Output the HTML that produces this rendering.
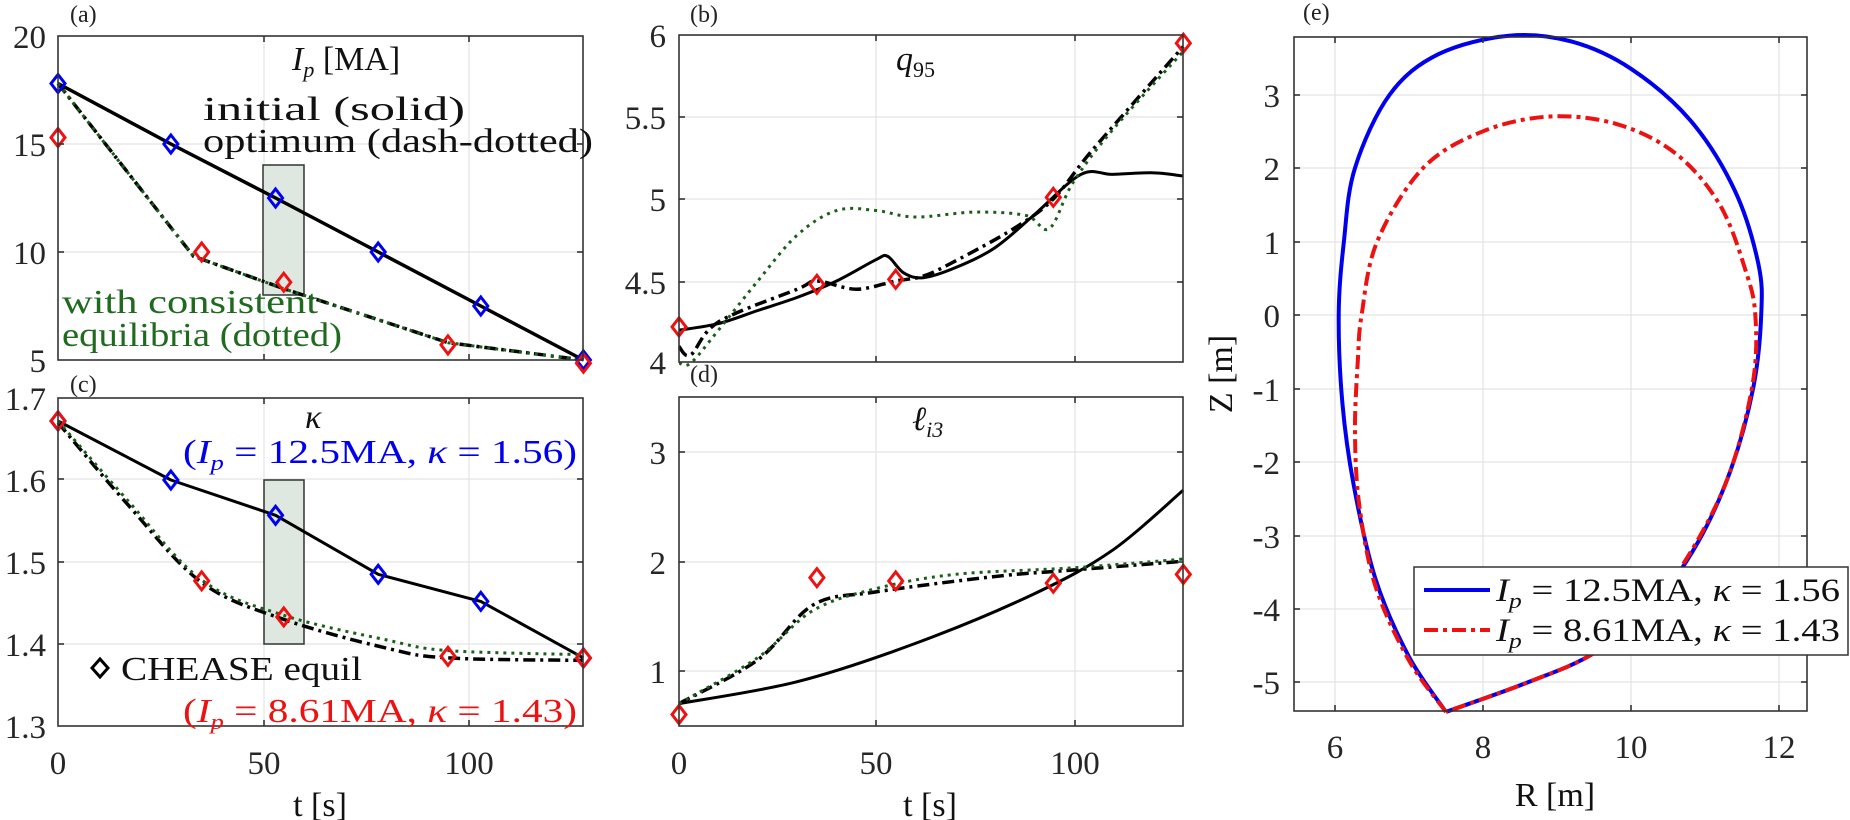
<!DOCTYPE html>
<html><head><meta charset="utf-8"><style>
html,body{margin:0;padding:0;background:#fff;}
svg{display:block;}
svg text{font-family:"Liberation Serif","DejaVu Serif",serif;}
.tk{font-size:33px;fill:#262626;}
.lab{font-size:34px;fill:#111;}
.pl{font-size:24px;fill:#222;}
</style></head><body>
<svg id="s" width="1850" height="820" viewBox="0 0 1850 820" xmlns="http://www.w3.org/2000/svg" font-family="Liberation Serif, serif">
<rect width="1850" height="820" fill="#fff"/>
<g id="grid" stroke="#e3e3e3" stroke-width="1.2"></g>
<g id="data"></g>
<g id="axes" fill="none" stroke="#333" stroke-width="1.6"></g>
<g class="tk" text-anchor="end">
<text x="46" y="48">20</text><text x="46" y="156">15</text><text x="46" y="264">10</text><text x="46" y="372">5</text>
<text x="46" y="410">1.7</text><text x="46" y="492">1.6</text><text x="46" y="574">1.5</text><text x="46" y="656">1.4</text><text x="46" y="738">1.3</text>
<text x="666" y="47">6</text><text x="666" y="129">5.5</text><text x="666" y="211">5</text><text x="666" y="294">4.5</text><text x="666" y="374">4</text>
<text x="666" y="464">3</text><text x="666" y="574">2</text><text x="666" y="683">1</text>
<text x="1280" y="107">3</text><text x="1280" y="180">2</text><text x="1280" y="254">1</text><text x="1280" y="327">0</text>
<text x="1280" y="401">-1</text><text x="1280" y="474">-2</text><text x="1280" y="548">-3</text><text x="1280" y="621">-4</text><text x="1280" y="694">-5</text>
</g>
<g class="tk" text-anchor="middle">
<text x="58" y="774">0</text><text x="264" y="774">50</text><text x="469" y="774">100</text>
<text x="679" y="774">0</text><text x="876" y="774">50</text><text x="1075" y="774">100</text>
<text x="1335" y="758">6</text><text x="1483" y="758">8</text><text x="1631" y="758">10</text><text x="1779" y="758">12</text>
</g>
<g class="lab" text-anchor="middle">
<text x="320" y="816">t [s]</text><text x="930" y="816">t [s]</text><text x="1555" y="806">R [m]</text>
<text transform="translate(1232,374) rotate(-90)">Z [m]</text>
</g>
<g class="pl">
<text x="70" y="22">(a)</text><text x="690" y="22">(b)</text><text x="70" y="392">(c)</text><text x="690" y="382">(d)</text><text x="1303" y="20">(e)</text>
</g>
<g font-size="34" fill="#111">
<text x="292" y="70"><tspan font-style="italic">I</tspan><tspan font-style="italic" font-size="22" dy="7">p</tspan><tspan dy="-7"> [MA]</tspan></text>
<text x="203" y="120" textLength="262" lengthAdjust="spacingAndGlyphs">initial (solid)</text>
<text x="203" y="152" textLength="390" lengthAdjust="spacingAndGlyphs">optimum (dash-dotted)</text>
<text x="62" y="313" fill="#1f6a1f" textLength="256" lengthAdjust="spacingAndGlyphs">with consistent</text>
<text x="62" y="346" fill="#1f6a1f" textLength="280" lengthAdjust="spacingAndGlyphs">equilibria (dotted)</text>
<text x="305" y="428" font-style="italic">κ</text>
<text x="183" y="463" fill="#0000ee" textLength="394" lengthAdjust="spacingAndGlyphs">(<tspan font-style="italic">I</tspan><tspan font-style="italic" font-size="22" dy="7">p</tspan><tspan dy="-7"> = 12.5MA, </tspan><tspan font-style="italic">κ</tspan> = 1.56)</text>
<text x="121" y="680" textLength="241" lengthAdjust="spacingAndGlyphs">CHEASE equil</text>
<text x="183" y="722" fill="#ee1111" textLength="394" lengthAdjust="spacingAndGlyphs">(<tspan font-style="italic">I</tspan><tspan font-style="italic" font-size="22" dy="7">p</tspan><tspan dy="-7"> = 8.61MA, </tspan><tspan font-style="italic">κ</tspan> = 1.43)</text>
<text x="896" y="70" font-style="italic">q<tspan font-size="22" dy="7" font-style="normal">95</tspan></text>
<text x="912" y="430" font-style="italic">ℓ<tspan font-size="22" dy="7">i3</tspan></text>
</g>
<path d="M100 659 L108 668 L100 677 L92 668 Z" fill="none" stroke="#000" stroke-width="3"/>
<rect x="1414" y="567" width="434" height="88" fill="#fff" stroke="#333" stroke-width="1.5"/>
<line x1="1424" y1="590" x2="1490" y2="590" stroke="#0000ee" stroke-width="4"/>
<line x1="1424" y1="630" x2="1490" y2="630" stroke="#ee1111" stroke-width="4" stroke-dasharray="14,5,4,5"/>
<g font-size="33" fill="#111">
<text x="1496" y="601" textLength="344" lengthAdjust="spacingAndGlyphs"><tspan font-style="italic">I</tspan><tspan font-style="italic" font-size="22" dy="7">p</tspan><tspan dy="-7"> = 12.5MA, </tspan><tspan font-style="italic">κ</tspan> = 1.56</text>
<text x="1496" y="641" textLength="344" lengthAdjust="spacingAndGlyphs"><tspan font-style="italic">I</tspan><tspan font-style="italic" font-size="22" dy="7">p</tspan><tspan dy="-7"> = 8.61MA, </tspan><tspan font-style="italic">κ</tspan> = 1.43</text>
</g>
</svg>
<script>
var NS="http://www.w3.org/2000/svg";
function el(p,t,a){var e=document.createElementNS(NS,t);for(var k in a)e.setAttribute(k,a[k]);p.appendChild(e);return e;}
var G=document.getElementById('grid'),D=document.getElementById('data'),A=document.getElementById('axes');
function cr(pts){
 var d="M"+pts[0][0].toFixed(1)+" "+pts[0][1].toFixed(1);
 for(var i=0;i<pts.length-1;i++){var p0=pts[i-1]||pts[i],p1=pts[i],p2=pts[i+1],p3=pts[i+2]||p2;
  d+=" C"+(p1[0]+(p2[0]-p0[0])/6).toFixed(1)+" "+(p1[1]+(p2[1]-p0[1])/6).toFixed(1)+" "+(p2[0]-(p3[0]-p1[0])/6).toFixed(1)+" "+(p2[1]-(p3[1]-p1[1])/6).toFixed(1)+" "+p2[0].toFixed(1)+" "+p2[1].toFixed(1);}
 return d;}
function lin(pts){return "M"+pts.map(function(p){return p[0].toFixed(1)+" "+p[1].toFixed(1)}).join(" L");}
function panel(x0,x1,y0,y1,gx,gy){
 gx.forEach(function(x){el(G,'line',{x1:x,x2:x,y1:y0,y2:y1});el(A,'line',{x1:x,x2:x,y1:y1,y2:y1-6});el(A,'line',{x1:x,x2:x,y1:y0,y2:y0+6});});
 gy.forEach(function(y){el(G,'line',{x1:x0,x2:x1,y1:y,y2:y});el(A,'line',{x1:x0,x2:x0+6,y1:y,y2:y});el(A,'line',{x1:x1,x2:x1-6,y1:y,y2:y});});
 el(A,'rect',{x:x0,y:y0,width:x1-x0,height:y1-y0});}
function dia(x,y,c){el(D,'path',{d:"M"+x+" "+(y-9)+" l7 9 l-7 9 l-7 -9z",fill:"none",stroke:c,"stroke-width":3});}
var ax=function(t){return 58+4.105*t},ay=function(v){return 36+(20-v)*21.6};
var cy=function(v){return 398+(1.7-v)*820};
var bx=function(t){return 679+3.94*t},by=function(v){return 35+(6-v)*164},dy=function(v){return 397+(3.5-v)*109.5};
var ex=function(r){return 1335+74*(r-6)},ez=function(z){return 315-73.5*z};
panel(58,583,36,360,[264,469],[144,252]);
panel(58,583,398,726,[264,469],[479,562,644]);
panel(679,1183,35,362,[876,1075],[117,199,282]);
panel(679,1183,397,726,[876,1075],[452,562,671]);
panel(1294,1807,37,711,[1335,1483,1631,1779],[95,168,242,315,389,462,536,609,682]);
el(D,'rect',{x:263,y:165,width:41,height:130,fill:"#dfe8e0",stroke:"#333","stroke-width":1.5});
el(D,'rect',{x:264,y:480,width:40,height:164,fill:"#dfe8e0",stroke:"#333","stroke-width":1.5});
function M(f,g,a){return a.map(function(p){return [f(p[0]),g(p[1])]});}
function line(d,st,w,da){var o={d:d,fill:"none",stroke:st,"stroke-width":w,"stroke-linejoin":"round"};if(da)o["stroke-dasharray"]=da;el(D,'path',o);}
var green="#1a5e1a";
var ab=[[0,17.8],[27.5,15],[53,12.5],[78,10],[103,7.5],[128,5]];
line(lin(M(ax,ay,ab)),"#000",3.5);
var ad=[[0,17.8],[33,9.8],[55,8.3],[95,5.8],[128,5]];
line(lin(M(ax,ay,ad)),"#000",3.5,"12,5,3,5");line(lin(M(ax,ay,ad)),green,3,"3,5");
ab.forEach(function(p){dia(ax(p[0]),ay(p[1]),"#0000ee")});
[[0,15.3],[35,10],[55,8.6],[95,5.7],[128,4.85]].forEach(function(p){dia(ax(p[0]),ay(p[1]),"#ee1111")});
var cb=[[0,1.672],[27.5,1.6],[53,1.557],[78,1.485],[103,1.452],[128,1.383]];
line(lin(M(ax,cy,cb)),"#000",3);
line(cr(M(ax,cy,[[0,1.67],[17,1.57],[35,1.475],[55,1.43],[80,1.395],[95,1.383],[128,1.38]])),"#000",3.5,"12,5,3,5");
line(cr(M(ax,cy,[[0,1.672],[17,1.575],[35,1.478],[55,1.435],[80,1.405],[95,1.392],[128,1.387]])),green,3,"3,5");
cb.forEach(function(p){dia(ax(p[0]),cy(p[1]),"#0000ee")});
[[0,1.672],[35,1.477],[55,1.433],[95,1.385],[128,1.383]].forEach(function(p){dia(ax(p[0]),cy(p[1]),"#ee1111")});
line(cr(M(bx,by,[[0,4.2],[10,4.24],[20,4.32],[30,4.4],[40,4.5],[50,4.63],[53,4.65],[57,4.55],[62,4.52],[70,4.58],[80,4.7],[90,4.9],[102,5.15],[110,5.15],[120,5.16],[128,5.14]])),"#000",3);
line(cr(M(bx,by,[[0,4.1],[3,4.05],[10,4.25],[30,4.45],[35,4.5],[45,4.45],[55,4.5],[62,4.53],[70,4.62],[85,4.82],[95,5.0],[105,5.3],[128,5.93]])),"#000",3.5,"12,5,3,5");
line(cr(M(bx,by,[[0,4.0],[3,4.0],[10,4.2],[20,4.5],[30,4.78],[40,4.93],[50,4.93],[60,4.89],[75,4.92],[88,4.9],[94,4.82],[100,5.1],[110,5.42],[128,5.9]])),green,3,"3,5");
[[0,4.22],[35,4.48],[55,4.51],[95,5.01],[128,5.95]].forEach(function(p){dia(bx(p[0]),by(p[1]),"#ee1111")});
line(cr(M(bx,dy,[[0,0.7],[30,0.9],[60,1.25],[90,1.7],[110,2.1],[128,2.65]])),"#000",3);
line(cr(M(bx,dy,[[0,0.7],[20,1.1],[34,1.6],[50,1.72],[80,1.86],[100,1.92],[128,2.0]])),"#000",3.5,"12,5,3,5");
line(cr(M(bx,dy,[[0,0.7],[20,1.12],[34,1.55],[50,1.75],[70,1.88],[100,1.94],[128,2.02]])),green,3,"3,5");
[[0,0.6],[35,1.85],[55,1.82],[95,1.8],[128,1.88]].forEach(function(p){dia(bx(p[0]),dy(p[1]),"#ee1111")});
var blue=[[7.5,-5.4],[7.0,-4.65],[6.55,-3.6],[6.25,-2.3],[6.1,-1.2],[6.05,0],[6.12,1],[6.27,2],[6.74,3],[7.4,3.55],[8.35,3.8],[9.2,3.72],[10.0,3.35],[10.8,2.65],[11.4,1.7],[11.72,0.7],[11.76,0],[11.65,-1],[11.35,-2.1],[10.9,-3.1],[10.3,-3.95],[9.5,-4.6],[8.6,-5.0],[7.5,-5.4]];
line(cr(M(ex,ez,blue)),"#0000ee",4);
var red=[[7.5,-5.4],[7.0,-4.7],[6.55,-3.7],[6.33,-2.6],[6.27,-1.6],[6.31,-0.6],[6.36,0],[6.57,1],[7.19,2],[8.0,2.5],[8.9,2.7],[9.8,2.6],[10.6,2.2],[11.2,1.5],[11.55,0.6],[11.68,0],[11.65,-0.9],[11.35,-2.1],[10.88,-3.1],[10.28,-3.95],[9.5,-4.6],[8.6,-5.0],[7.5,-5.4]];
line(cr(M(ex,ez,red)),"#ee1111",4,"14,5,4,5");
</script>
</body></html>
